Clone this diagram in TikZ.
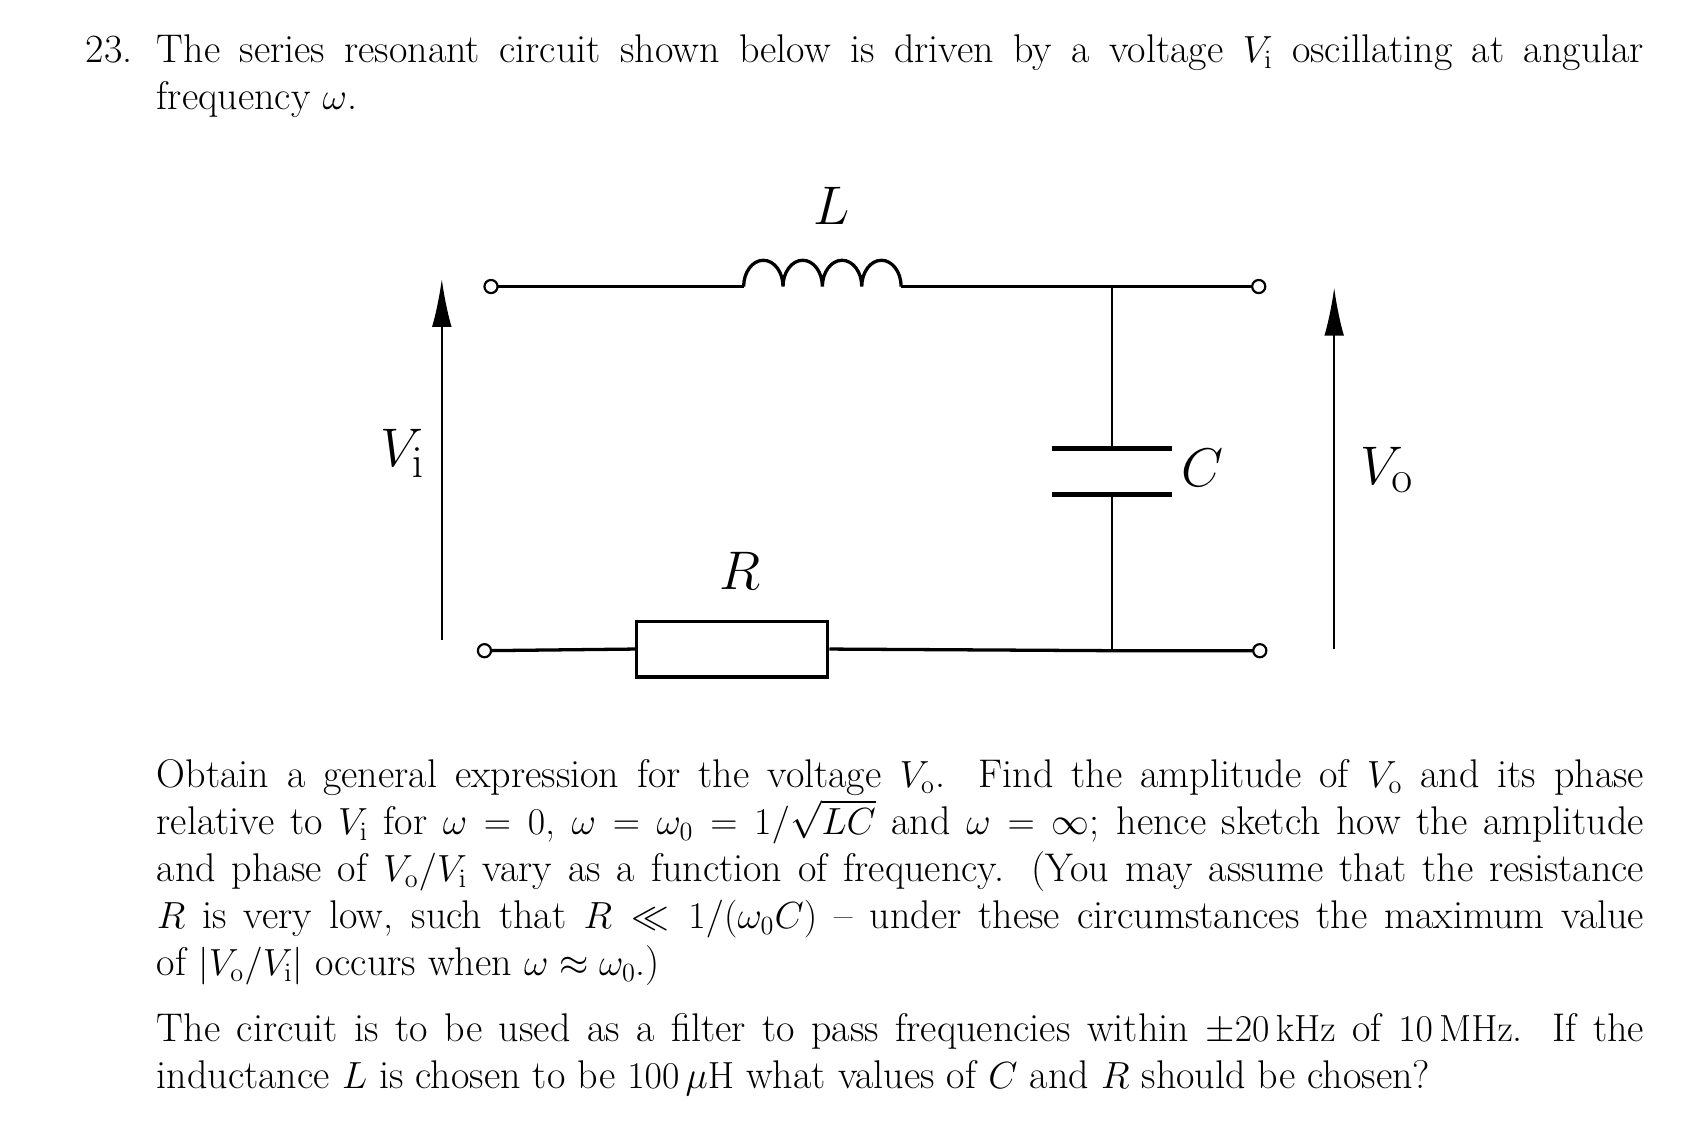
\documentclass[tikz,border=0pt]{standalone}
\usetikzlibrary{arrows.meta}
\begin{document}
\begin{tikzpicture}[x=0.5pt,y=-0.5pt,
  wire/.style={line width=1.5pt},
  thin/.style={line width=1pt},
  term/.style={circle,draw,line width=1pt,fill=white,minimum size=6pt,inner sep=0pt},
  varrow/.style={line width=1pt,-{Latex[length=22pt,width=9pt]}},
  lab/.style={font=\fontsize{30}{34}\selectfont},
  para/.style={anchor=base west,text width=680pt,align=justify,inner sep=0pt,font=\fontsize{18.3}{21.5}\selectfont}]
\useasboundingbox (0,0) rectangle (1560,1030);
% text
\node[anchor=base west,inner sep=0pt,font=\fontsize{18.3}{21.5}\selectfont] (num) at (78,57) {23.};
\node[para] (q1) at (143,57) {The series resonant circuit shown below is driven by a voltage $V_\mathrm{i}$ oscillating at angular\linebreak frequency $\omega$.};
\node[para] (q2) at (143,720) {Obtain a general expression for the voltage $V_\mathrm{o}$. Find the amplitude of $V_\mathrm{o}$ and its phase\linebreak relative to $V_\mathrm{i}$ for $\omega=0$, $\omega=\omega_0=1/\sqrt{LC}$ and $\omega=\infty$; hence sketch how the amplitude\linebreak and phase of $V_\mathrm{o}/V_\mathrm{i}$ vary as a function of frequency. (You may assume that the resistance\linebreak $R$ is very low, such that $R\ll 1/(\omega_0C)$ -- under these circumstances the maximum value\linebreak of $|V_\mathrm{o}/V_\mathrm{i}|$ occurs when $\omega\approx\omega_0$.)};
\node[para] (q3) at (143,952) {The circuit is to be used as a filter to pass frequencies within $\pm20\,\mathrm{kHz}$ of $10\,\mathrm{MHz}$. If the\linebreak inductance $L$ is chosen to be $100\,\mu\mathrm{H}$ what values of $C$ and $R$ should be chosen?};
% circuit coordinates
\coordinate (tl) at (449,262);
\coordinate (ls) at (680,262);
\coordinate (jt) at (1017,262);
\coordinate (tr) at (1151,262);
\coordinate (bl) at (443,595);
\coordinate (jb) at (1017,595);
\coordinate (br) at (1152,595);
\coordinate (ct) at (1017,410);
\coordinate (cb) at (1017,452);
\node[draw,line width=1.5pt,minimum width=87.5pt,minimum height=25.5pt,inner sep=0pt] (res) at (669.5,593.5) {};
\draw[wire] (tl) -- (ls);
\draw[wire] (ls) arc[start angle=180,end angle=360,x radius=18,y radius=24]
  arc[start angle=180,end angle=360,x radius=18,y radius=24]
  arc[start angle=180,end angle=360,x radius=18,y radius=24]
  arc[start angle=180,end angle=360,x radius=18,y radius=24] coordinate (lend);
\draw[wire] (lend) -- (jt) -- (tr);
\draw[wire] (bl) -- (res.west);
\draw[wire] (res.east) -- (jb) -- (br);
\draw[thin] (jt) -- (ct);
\draw[thin] (cb) -- (jb);
\draw[line width=2.2pt] (962,410) -- (1072,410);
\draw[line width=2.2pt] (962,452) -- (1072,452);
\node[term] at (tl) {};
\node[term] at (tr) {};
\node[term] at (bl) {};
\node[term] at (br) {};
\coordinate (a1s) at (404,585); \coordinate (a1e) at (404,255);
\coordinate (a2s) at (1220,593); \coordinate (a2e) at (1220,263);
\draw[varrow] (a1s) -- (a1e);
\draw[varrow] (a2s) -- (a2e);
\node[lab] (Ll) at (760,188) {$L$};
\node[lab] (Rl) at (677,522) {$R$};
\node[lab] (Cl) at (1100,428) {$C$};
\node[lab] (Vi) at (368,415) {$V_\mathrm{i}$};
\node[lab] (Vo) at (1268,430) {$V_\mathrm{o}$};
\end{tikzpicture}
\end{document}
